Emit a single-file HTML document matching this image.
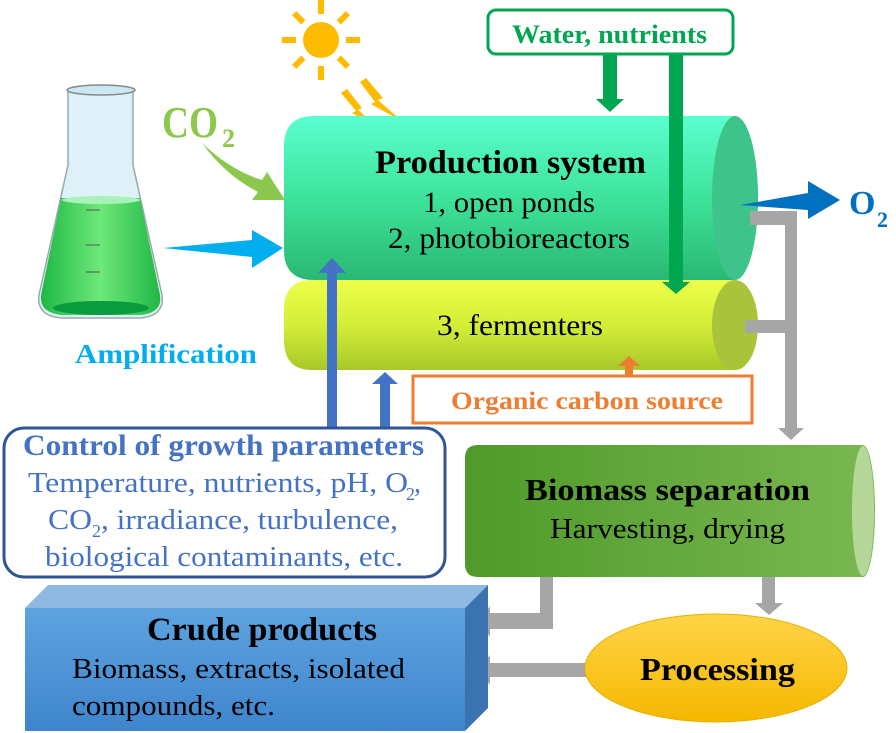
<!DOCTYPE html>
<html><head><meta charset="utf-8"><style>
html,body{margin:0;padding:0;background:#fff;}
svg{display:block;}
text{font-family:"Liberation Serif",serif;}
</style></head><body>
<svg width="896" height="733" viewBox="0 0 896 733" xmlns="http://www.w3.org/2000/svg">
<defs>
<linearGradient id="gp" x1="0" y1="0" x2="0" y2="1"><stop offset="0" stop-color="#5affd0"/><stop offset="0.5" stop-color="#3de39a"/><stop offset="1" stop-color="#2ab873"/></linearGradient>
<linearGradient id="gf" x1="0" y1="0" x2="0" y2="1"><stop offset="0" stop-color="#eeff4a"/><stop offset="0.5" stop-color="#d4ee38"/><stop offset="1" stop-color="#a8c82a"/></linearGradient>
<linearGradient id="gb" x1="0" y1="0" x2="1" y2="0"><stop offset="0" stop-color="#4f9a2a"/><stop offset="1" stop-color="#7ab851"/></linearGradient>
<linearGradient id="gc" x1="0" y1="0" x2="0" y2="1"><stop offset="0" stop-color="#5ea3e0"/><stop offset="1" stop-color="#3e85cc"/></linearGradient>
<linearGradient id="gy" x1="0" y1="0" x2="0" y2="1"><stop offset="0" stop-color="#ffd447"/><stop offset="1" stop-color="#f5b800"/></linearGradient>
<linearGradient id="gl" x1="0" y1="0" x2="1" y2="0"><stop offset="0" stop-color="#20b845"/><stop offset="0.5" stop-color="#6ee87a"/><stop offset="1" stop-color="#20b845"/></linearGradient>
</defs>

<!-- sun -->
<g fill="#ffbb00">
<circle cx="321" cy="40" r="18"/>
<rect x="318" y="0" width="6" height="14"/><rect x="318" y="66" width="6" height="14"/>
<rect x="282" y="37" width="14" height="6"/><rect x="346" y="37" width="14" height="6"/>
<g transform="rotate(45 321 40)"><rect x="318" y="2" width="6" height="13"/><rect x="318" y="65" width="6" height="13"/><rect x="283" y="37" width="13" height="6"/><rect x="346" y="37" width="13" height="6"/></g>
<polygon points="341,93 347,89 362,108 358,110 384,132 352,113 356,111"/>
<polygon points="360,82 366,78 383,98 378,100 403,122 371,104 375,102"/>
</g>

<!-- flask -->
<path d="M68,90 L133,90 L133,165 L162,295 Q165,316 140,318 L62,318 Q36,316 39,295 L68,165 Z" fill="#dff1f8" stroke="#9aa" stroke-width="1.5"/>
<path d="M61,198 L140,198 L160,295 Q163,313 140,315 L62,315 Q39,313 41,295 Z" fill="url(#gl)"/>
<ellipse cx="101" cy="200" rx="39" ry="4" fill="#a6f2b8"/>
<ellipse cx="101" cy="308" rx="48" ry="7" fill="#0a9a40"/>
<ellipse cx="101" cy="90" rx="34" ry="5" fill="#c9e8f4" stroke="#888" stroke-width="1.5"/>
<g stroke="#555" stroke-width="1"><line x1="86" y1="210" x2="100" y2="210"/><line x1="86" y1="245" x2="100" y2="245"/><line x1="86" y1="272" x2="100" y2="272"/></g>

<!-- CO2 -->
<text x="162" y="137" font-size="44" font-weight="bold" fill="#8dc84e" textLength="56" lengthAdjust="spacingAndGlyphs">CO</text>
<text x="222" y="147" font-size="26" font-weight="bold" fill="#8dc84e">2</text>
<path d="M202,143 Q230,170 262,180 L267,172 L285,200 L252,200 L258,192 Q225,175 202,143 Z" fill="#8dc84e"/>
<polygon points="163,248 252,240 252,230 283,248 252,268 252,257" fill="#00aeef"/>
<text x="75" y="363" font-size="27" font-weight="bold" fill="#00aeef" textLength="182" lengthAdjust="spacingAndGlyphs">Amplification</text>

<!-- fermenter -->
<path d="M312,280 L735,280 A23,45 0 0 1 735,370 L312,370 Q284,370 284,340 L284,310 Q284,280 312,280 Z" fill="url(#gf)"/>
<ellipse cx="735" cy="325" rx="23" ry="45" fill="#a9c43a"/>
<text x="437" y="335" font-size="30" textLength="166" lengthAdjust="spacingAndGlyphs">3, fermenters</text>

<!-- production -->
<path d="M314,116 L735,116 A23,82 0 0 1 735,280 L314,280 Q284,280 284,250 L284,146 Q284,116 314,116 Z" fill="url(#gp)"/>
<ellipse cx="735" cy="198" rx="23" ry="82" fill="#3ec48a"/>
<text x="375" y="173" font-size="33" font-weight="bold" textLength="271" lengthAdjust="spacingAndGlyphs">Production system</text>
<text x="423" y="212" font-size="30" textLength="172" lengthAdjust="spacingAndGlyphs">1, open ponds</text>
<text x="388" y="248" font-size="30" textLength="242" lengthAdjust="spacingAndGlyphs">2, photobioreactors</text>

<!-- water nutrients -->
<rect x="488" y="10" width="245" height="44" rx="8" fill="#fff" stroke="#00a650" stroke-width="3"/>
<text x="512" y="43" font-size="26" font-weight="bold" fill="#00a650" textLength="195" lengthAdjust="spacingAndGlyphs">Water, nutrients</text>
<polygon points="603,55 617,55 617,99 624,99 610,112 596,99 603,99" fill="#00a650"/>
<polygon points="669,55 683,55 683,282 690,282 676,294 662,282 669,282" fill="#00a650"/>

<!-- O2 -->
<polygon points="740,205 808,193 808,181 840,200 808,219 808,210" fill="#0070c0"/>
<text x="849" y="214" font-size="34" font-weight="bold" fill="#0070c0">O</text>
<text x="877" y="227" font-size="22" font-weight="bold" fill="#0070c0">2</text>

<!-- gray arrows right -->
<polygon points="750,211 797,211 797,428 804,428 791,440 778,428 785,428 785,225 750,225" fill="#a6a6a6"/>
<rect x="745" y="320" width="40" height="13" fill="#a6a6a6"/>

<!-- organic carbon -->
<rect x="413" y="376" width="339" height="47" fill="#fff" stroke="#ed7d31" stroke-width="3"/>
<text x="451" y="409" font-size="25" font-weight="bold" fill="#ed7d31" textLength="272" lengthAdjust="spacingAndGlyphs">Organic carbon source</text>
<polygon points="625,376 633,376 633,366 640,366 629,356 618,366 625,366" fill="#ed7d31"/>

<!-- blue arrows -->
<polygon points="327,428 337,428 337,273 346,273 332,258 318,273 327,273" fill="#4472c4"/>
<polygon points="380,428 390,428 390,384 398,384 385,372 372,384 380,384" fill="#4472c4"/>

<!-- control box -->
<rect x="4" y="428" width="441" height="149" rx="20" fill="#fff" stroke="#2f5597" stroke-width="3"/>
<g fill="#4472c4">
<text x="23" y="455" font-size="30" font-weight="bold" textLength="401" lengthAdjust="spacingAndGlyphs">Control of growth parameters</text>
<text x="28" y="492" font-size="28" textLength="380" lengthAdjust="spacingAndGlyphs">Temperature, nutrients, pH, O</text>
<text x="406" y="500" font-size="18">2</text><text x="414" y="492" font-size="28">,</text>
<text x="48" y="529" font-size="28" textLength="44" lengthAdjust="spacingAndGlyphs">CO</text>
<text x="92" y="537" font-size="18">2</text>
<text x="101" y="529" font-size="28" textLength="297" lengthAdjust="spacingAndGlyphs">, irradiance, turbulence,</text>
<text x="45" y="566" font-size="28" textLength="358" lengthAdjust="spacingAndGlyphs">biological contaminants, etc.</text>
</g>

<!-- biomass separation -->
<path d="M478,445 L863,445 A12,66 0 0 1 863,577 L478,577 Q465,577 465,564 L465,458 Q465,445 478,445 Z" fill="url(#gb)"/>
<ellipse cx="863" cy="511" rx="11" ry="65" fill="#b5d89a"/>
<text x="525" y="500" font-size="31" font-weight="bold" textLength="285" lengthAdjust="spacingAndGlyphs">Biomass separation</text>
<text x="550" y="538" font-size="29" textLength="235" lengthAdjust="spacingAndGlyphs">Harvesting, drying</text>

<!-- gray arrows bottom -->
<polygon points="540,577 553,577 553,629 490,629 490,637 479,621 490,606 490,613 540,613" fill="#a6a6a6"/>
<polygon points="762,577 775,577 775,603 783,603 769,615 755,603 762,603" fill="#a6a6a6"/>
<polygon points="590,663 590,677 490,677 490,685 479,670 490,655 490,663" fill="#a6a6a6"/>

<!-- crude products 3D box -->
<polygon points="25,608 48,585 488,585 465,608" fill="#8fb8e2"/>
<polygon points="465,608 488,585 488,708 465,731" fill="#3a73b0"/>
<rect x="25" y="608" width="440" height="123" fill="url(#gc)"/>
<text x="147" y="640" font-size="33" font-weight="bold" textLength="230" lengthAdjust="spacingAndGlyphs">Crude products</text>
<text x="72" y="678" font-size="29" textLength="333" lengthAdjust="spacingAndGlyphs">Biomass, extracts, isolated</text>
<text x="72" y="715" font-size="29" textLength="203" lengthAdjust="spacingAndGlyphs">compounds, etc.</text>

<!-- processing -->
<ellipse cx="716" cy="668" rx="131" ry="54" fill="url(#gy)" stroke="#e8b000" stroke-width="1"/>
<text x="640" y="680" font-size="32" font-weight="bold" textLength="155" lengthAdjust="spacingAndGlyphs">Processing</text>
</svg>
</body></html>
